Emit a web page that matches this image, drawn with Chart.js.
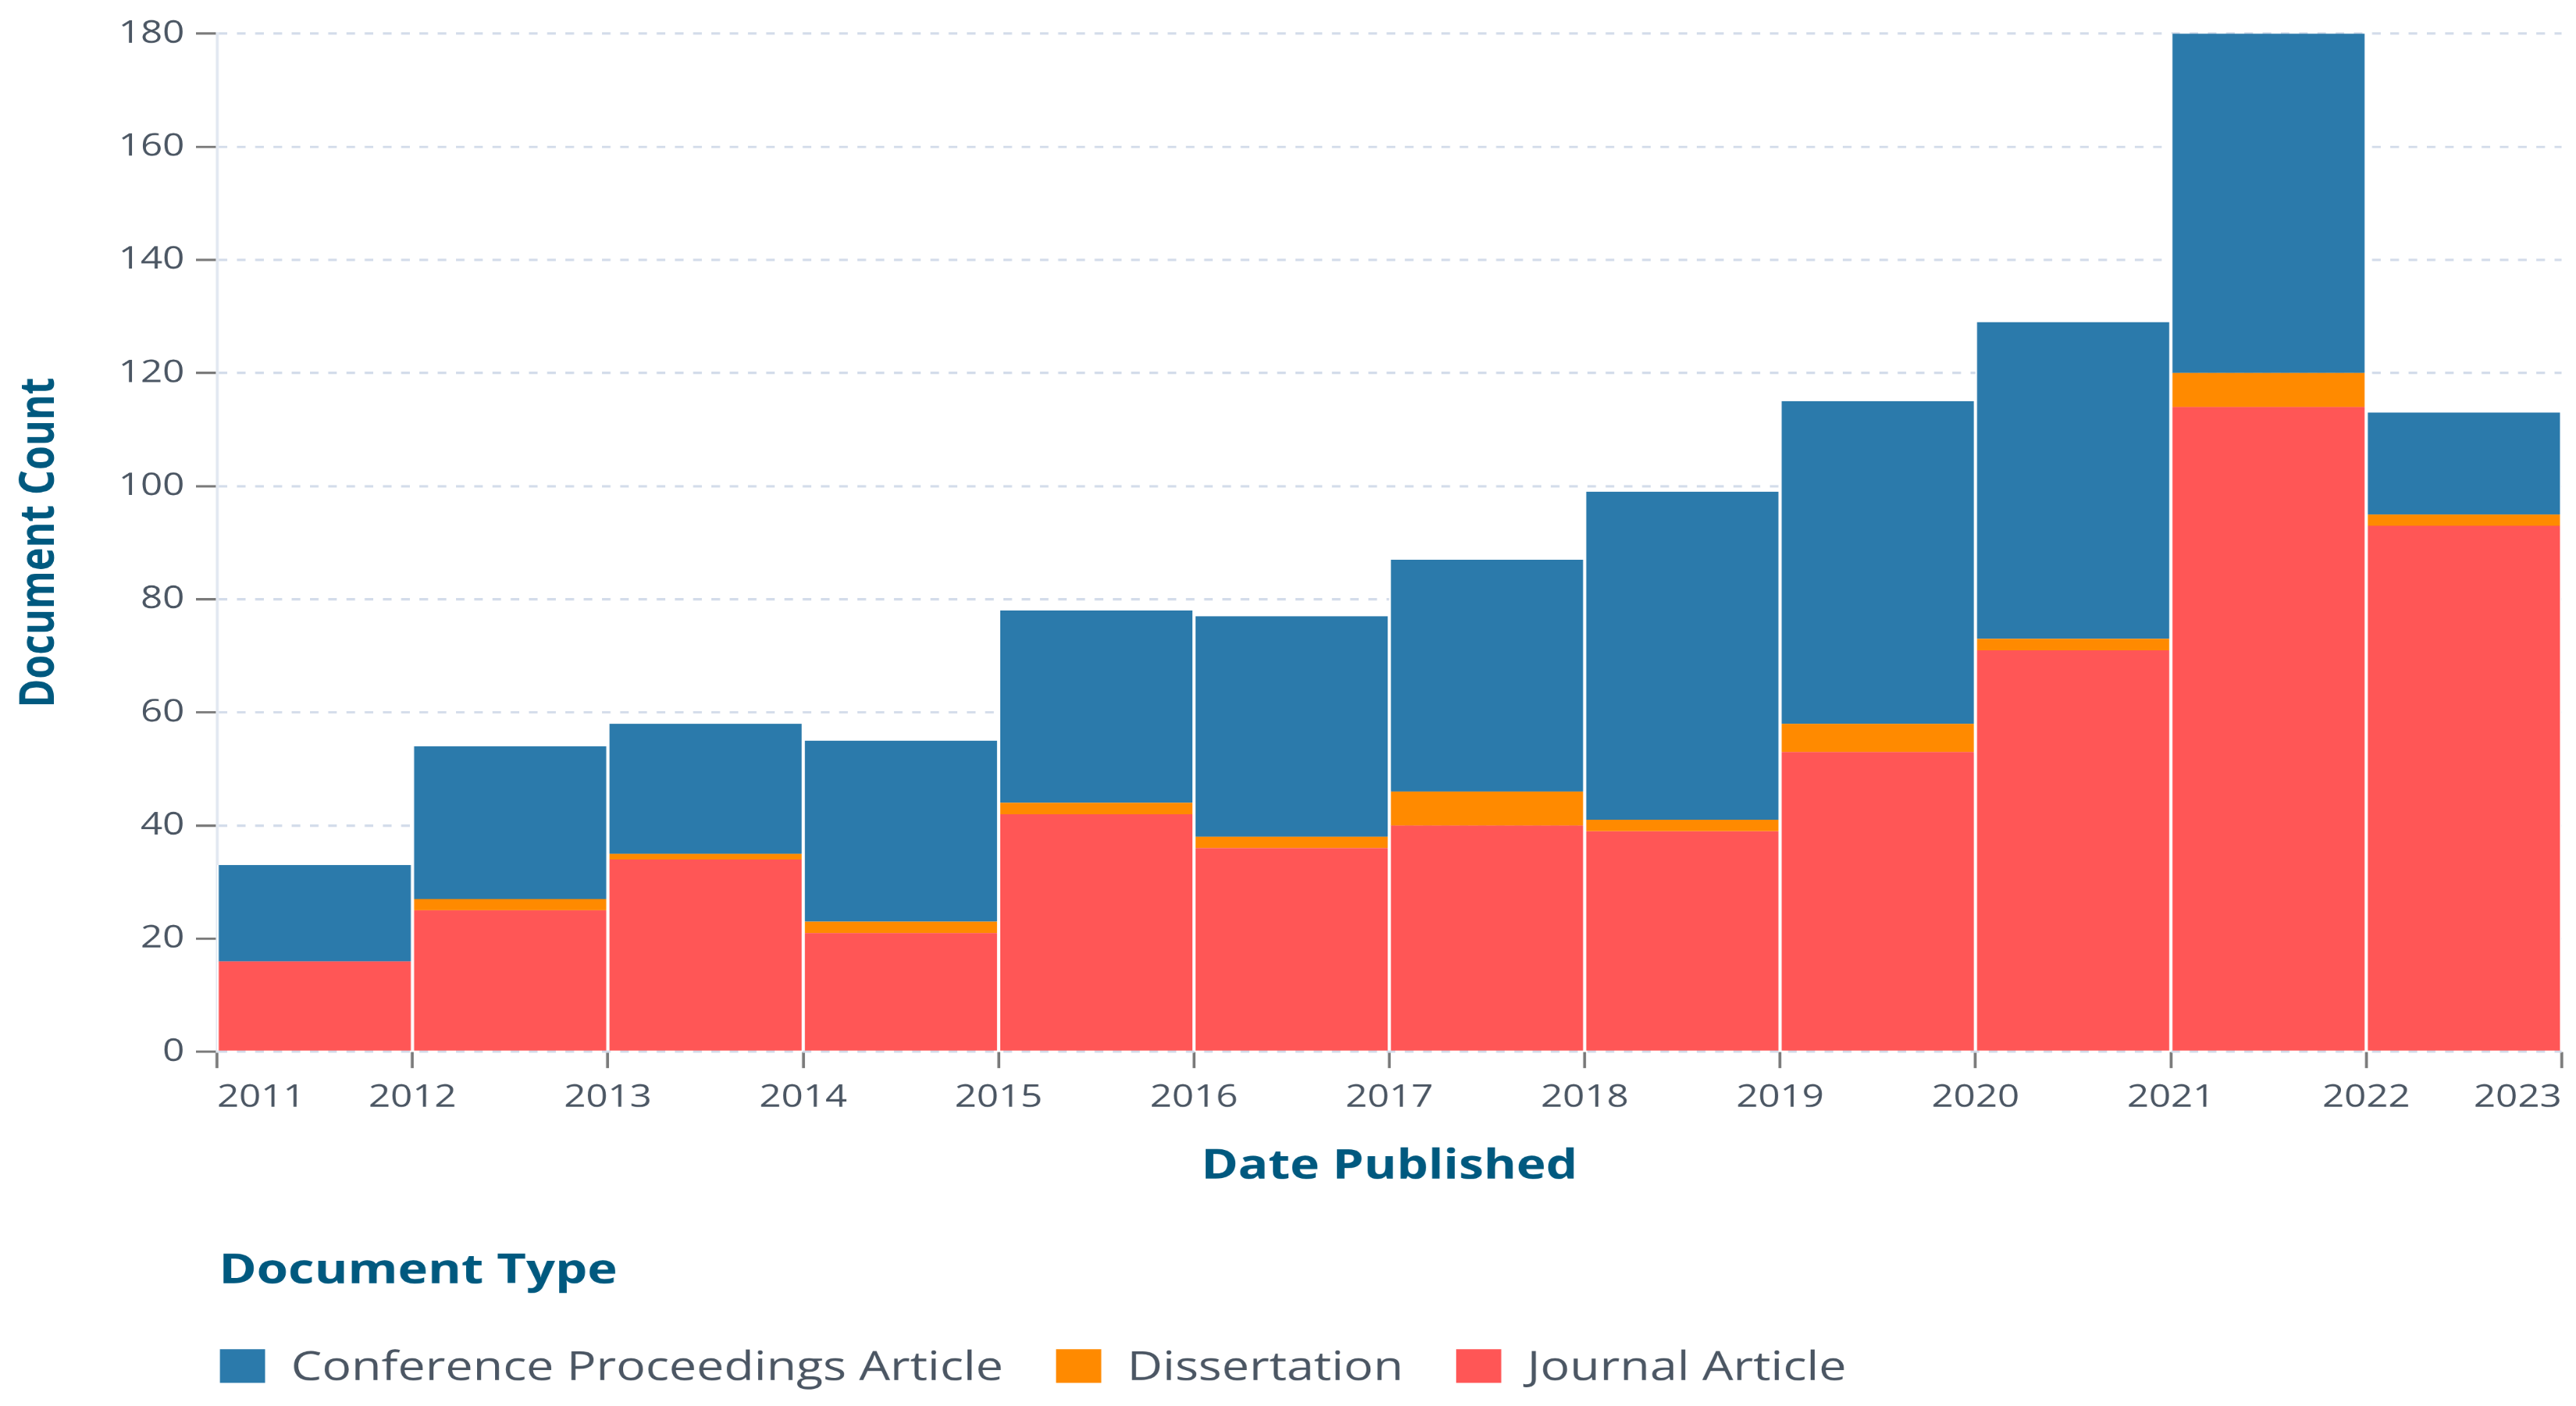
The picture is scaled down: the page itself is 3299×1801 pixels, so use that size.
<!DOCTYPE html>
<html>
<head>
<meta charset="utf-8">
<script src="https://cdn.jsdelivr.net/npm/chart.js@4.4.1/dist/chart.umd.min.js"></script>
<style>
html,body{margin:0;padding:0;background:#ffffff;overflow:hidden;width:3299px;height:1801px;}
#wrap{position:absolute;left:0;top:0;width:2682px;height:1801px;transform:scaleX(1.23005);transform-origin:0 0;}
canvas{display:block;}
</style>
</head>
<body>
<div id="wrap"><canvas id="c" width="2682" height="1801"></canvas></div>
<script>
// ---- data ----
const years = ['2011','2012','2013','2014','2015','2016','2017','2018','2019','2020','2021','2022'];
const yearTicks = ['2011','2012','2013','2014','2015','2016','2017','2018','2019','2020','2021','2022','2023'];
const journalArticle = [16, 25, 34, 21, 42, 36, 40, 39, 53, 71, 114, 93];
const dissertation = [0, 2, 1, 2, 2, 2, 6, 2, 5, 2, 6, 2];
const conferenceProceedings = [17, 27, 23, 32, 34, 39, 41, 58, 57, 56, 60, 18];
const seriesNames = ['Journal Article', 'Dissertation', 'Conference Proceedings Article'];
const yMin = 0, yMax = 180, yStep = 20;

// ---- styles ----
const FONT = '"Open Sans", "Noto Sans", sans-serif';
const TITLE_COLOR = '#00597f';
const TEXT_COLOR = '#4b5663';
const TICK_MARK = '#7a7a7a';
const GRID_COLOR = '#d3dcea';
const COLORS = { journal: '#ff5656', diss: '#ff8a00', conf: '#2b7aab' };

const legendPlugin = {
  id: 'docTypeLegend',
  afterDraw(chart) {
    const ctx = chart.ctx;
    const x0 = chart.chartArea.left + 2;
    ctx.save();
    ctx.textAlign = 'left';
    ctx.textBaseline = 'alphabetic';
    ctx.font = 'bold 53px ' + FONT;
    ctx.fillStyle = TITLE_COLOR;
    ctx.fillText('Document Type', x0, 1643);
    ctx.font = '51px ' + FONT;
    let x = x0 + 1;
    const items = chart.data.datasets.slice().reverse();
    for (const ds of items) {
      ctx.fillStyle = ds.backgroundColor;
      ctx.fillRect(x, 1728, 47, 43);
      ctx.fillStyle = TEXT_COLOR;
      ctx.fillText(ds.label, x + 74, 1767);
      x += 74 + ctx.measureText(ds.label).width + 55;
    }
    ctx.restore();
  }
};

const barStyle = {
  borderColor: '#ffffff',
  borderWidth: { left: 2, right: 2, top: 0, bottom: 0 },
  borderSkipped: false,
  barPercentage: 1.0,
  categoryPercentage: 1.0,
  xAxisID: 'x',
  yAxisID: 'y'
};

new Chart(document.getElementById('c'), {
  type: 'bar',
  data: {
    labels: years,
    datasets: [
      Object.assign({ label: seriesNames[0], data: journalArticle, backgroundColor: COLORS.journal }, barStyle),
      Object.assign({ label: seriesNames[1], data: dissertation, backgroundColor: COLORS.diss }, barStyle),
      Object.assign({ label: seriesNames[2], data: conferenceProceedings, backgroundColor: COLORS.conf }, barStyle)
    ]
  },
  options: {
    responsive: false,
    animation: false,
    devicePixelRatio: 1.5,
    layout: { padding: { top: 43, right: 15, bottom: 254, left: 0 } },
    plugins: {
      legend: { display: false },
      tooltip: { enabled: false }
    },
    scales: {
      x: {
        type: 'category',
        labels: years,
        display: false,
        stacked: true,
        offset: true
      },
      xTicks: {
        type: 'category',
        labels: yearTicks,
        position: 'bottom',
        offset: false,
        grid: {
          display: true,
          drawOnChartArea: false,
          drawTicks: true,
          tickLength: 21,
          tickColor: TICK_MARK,
          tickWidth: 3,
          offset: false
        },
        border: { display: false },
        ticks: {
          align: 'inner',
          autoSkip: false,
          maxRotation: 0,
          minRotation: 0,
          padding: 14,
          color: TEXT_COLOR,
          font: { family: FONT, size: 40 }
        },
        title: {
          display: true,
          text: 'Date Published',
          color: TITLE_COLOR,
          font: { family: FONT, size: 52, weight: 'bold' },
          padding: { top: 0, bottom: 21 }
        },
        afterFit(scale) { scale.height = 200; }
      },
      y: {
        stacked: true,
        min: yMin,
        max: yMax,
        ticks: {
          stepSize: yStep,
          padding: 12,
          color: TEXT_COLOR,
          font: { family: FONT, size: 40 }
        },
        grid: {
          color: GRID_COLOR,
          lineWidth: 3,
          drawTicks: true,
          tickLength: 22,
          tickColor: TICK_MARK,
          tickWidth: 3,
          tickBorderDash: []
        },
        border: { display: true, color: '#e2e8f1', width: 3, dash: [9, 10] },
        title: {
          display: true,
          text: 'Document Count',
          color: TITLE_COLOR,
          font: { family: FONT, size: 50, weight: 'bold' },
          padding: { top: 12, bottom: 0 }
        },
        afterFit(scale) { scale.width = 226; }
      }
    }
  },
  plugins: [legendPlugin]
});
</script>
</body>
</html>
